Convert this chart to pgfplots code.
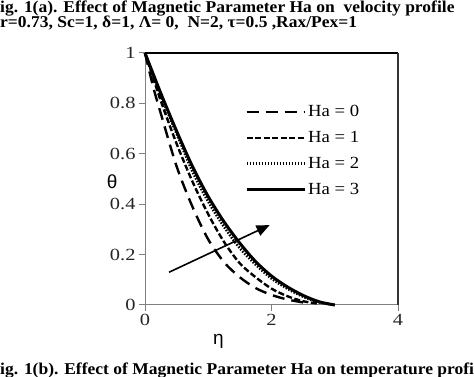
\documentclass[border=0pt]{standalone}
\usepackage{pgfplots}
\pgfplotsset{compat=1.18}
\usepackage{fontspec}
\setmainfont{Liberation Serif}
\newfontfamily\arialfont{Liberation Sans}
\newfontfamily\tickfont[FakeStretch=1.2]{Liberation Serif}
\newfontfamily\legfont[FakeStretch=1.1]{Liberation Serif}
\newfontfamily\titfont[FakeStretch=1.06]{Liberation Serif}
\usetikzlibrary{arrows.meta}
\begin{document}
\begin{tikzpicture}[x=1pt,y=1pt]
\useasboundingbox (0,0) rectangle (474,377);
\clip (0,0) rectangle (474,377);
\node[anchor=base west, inner sep=0, font=\titfont\fontsize{16.5}{16.5}\selectfont\bfseries] at (0,364) {ig. 1(a). Effect of Magnetic Parameter Ha on \ velocity profile};
\node[anchor=base west, inner sep=0, font=\titfont\fontsize{16.5}{16.5}\selectfont\bfseries] at (0,349.5) {r=0.73, Sc=1, δ=1, Λ= 0, \ N=2, τ=0.5 ,Rax/Pex=1};
\node[anchor=base west, inner sep=0, font=\titfont\fontsize{16.5}{16.5}\selectfont\bfseries] at (0,2) {ig. 1(b). Effect of Magnetic Parameter Ha on temperature profile};
\begin{axis}[
  name=ax,
  at={(145pt,72pt)}, anchor=south west,
  scale only axis, width=253pt, height=252pt,
  xmin=0, xmax=4, ymin=0, ymax=1,
  xtick={0,2,4}, xticklabels={0,2,4},
  ytick={0,0.2,0.4,0.6,0.8,1}, yticklabels={0,0.2,0.4,0.6,0.8,1},
  tick label style={font=\tickfont\fontsize{17}{17}\selectfont, text=black!85},
  axis x line*=bottom, axis y line*=left,
  axis line style={draw=gray, line width=1pt, -},
  tick style={draw=gray, line width=1pt},
  tick align=outside, major tick length=6pt,
  xtick pos=bottom, ytick pos=left,
  clip=false,
  legend style={draw=none, fill=none, at={(axis description cs:0.395,0.8)}, anchor=north west,
    font=\legfont\fontsize{17}{17}\selectfont, row sep=9pt, inner sep=0pt},
  legend cell align=left,
  legend image code/.code={\draw[#1] (0pt,0pt) -- (58pt,0pt);},
]
\addplot[smooth, black, line width=2.4pt, dash pattern=on 12pt off 7pt] coordinates {
(0,1) (0.13,0.865) (0.25,0.76) (0.5,0.55) (0.75,0.39) (1,0.26) (1.25,0.17) (1.5,0.11) (1.75,0.067) (2,0.04) (2.25,0.022) (2.5,0.01)};
\addlegendentry{Ha = 0}
\addplot[smooth, black, line width=2.4pt, dash pattern=on 6pt off 2.5pt] coordinates {
(0,1) (0.25,0.81) (0.5,0.64) (0.75,0.49) (1,0.36) (1.25,0.25) (1.5,0.165) (1.75,0.11) (2,0.065) (2.25,0.035) (2.5,0.015) (2.75,0.005)};
\addlegendentry{Ha = 1}
\addplot[smooth, black, line width=2.6pt, dash pattern=on 1.5pt off 1.5pt] coordinates {
(0,1) (0.25,0.83) (0.5,0.68) (0.75,0.53) (1,0.41) (1.25,0.31) (1.5,0.225) (1.75,0.16) (2,0.105) (2.25,0.065) (2.5,0.033) (2.75,0.011) (3,0)};
\addlegendentry{Ha = 2}
\addplot[smooth, black, line width=3pt] coordinates {
(0,1) (0.25,0.84) (0.5,0.69) (0.75,0.55) (1,0.43) (1.25,0.33) (1.5,0.245) (1.75,0.172) (2,0.115) (2.25,0.072) (2.5,0.038) (2.75,0.013) (3,0)};
\addlegendentry{Ha = 3}
\draw[-{Triangle[length=13pt,width=11pt]}, line width=1.6pt] (axis cs:0.38,0.13) -- (axis cs:1.97,0.317);
\node[font=\arialfont\fontsize{19}{19}\selectfont] at (axis cs:-0.52,0.49) {θ};
\node[font=\arialfont\fontsize{19}{19}\selectfont] at (axis cs:1.16,-0.145) {η};
\end{axis}
\draw[black, line width=1.8pt] (ax.north west) -- (ax.north east);
\draw[black!80, line width=1.2pt] (ax.north east) -- (ax.south east);
\end{tikzpicture}
\end{document}
